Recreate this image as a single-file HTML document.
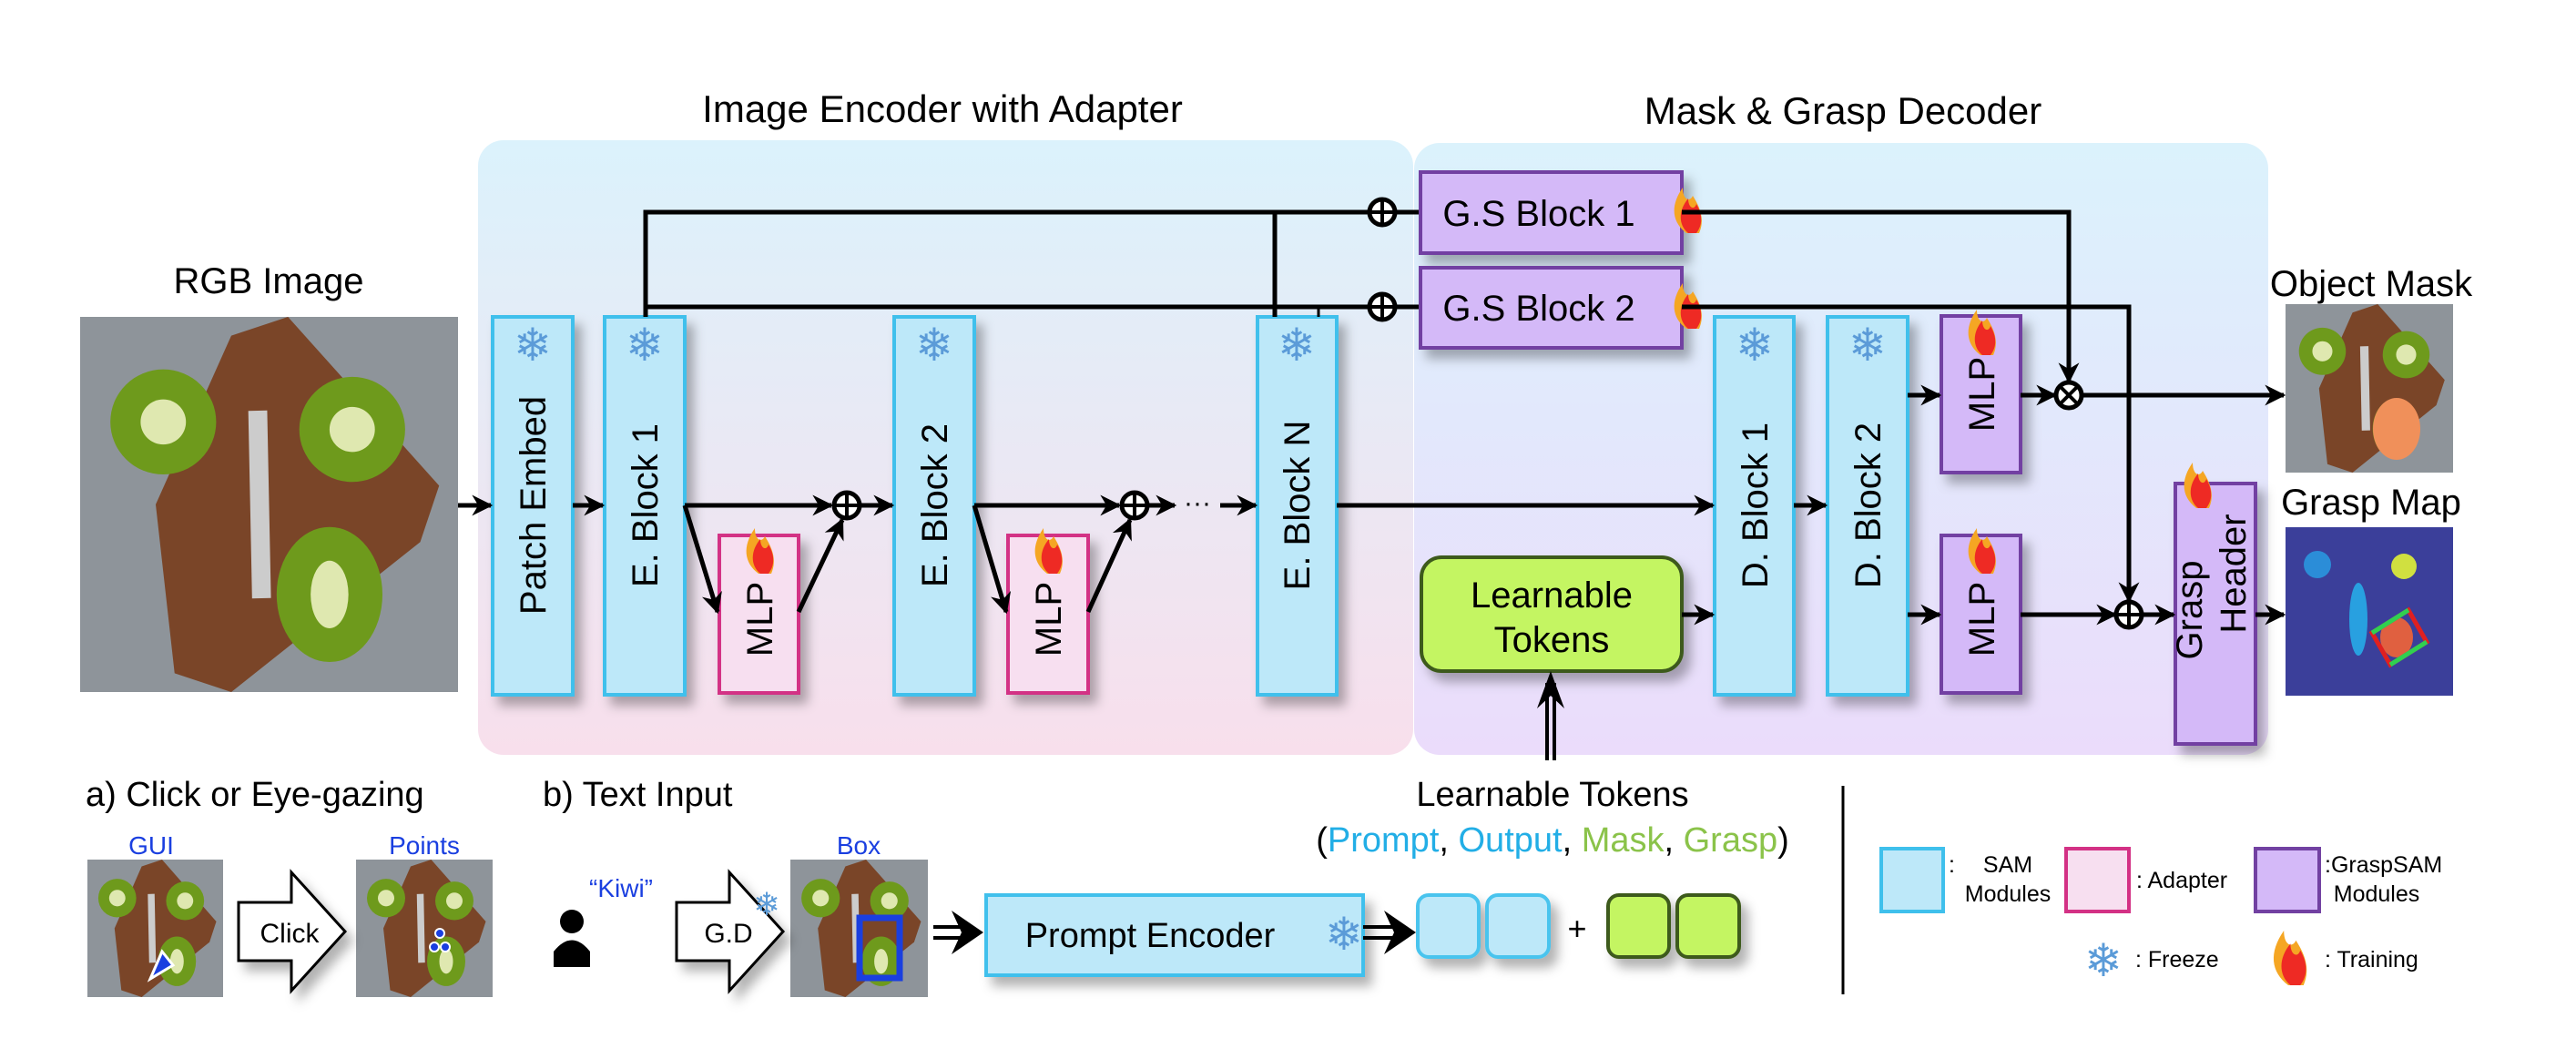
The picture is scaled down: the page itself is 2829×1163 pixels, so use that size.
<!DOCTYPE html>
<html><head><meta charset="utf-8"><style>
html,body{margin:0;padding:0;background:#fff}
svg{display:block}
text{font-family:"Liberation Sans",sans-serif}
</style></head><body>
<svg width="2829" height="1163" viewBox="0 0 2829 1163" xmlns="http://www.w3.org/2000/svg">
<defs>
<linearGradient id="enc" x1="0" y1="0" x2="0" y2="1"><stop offset="0" stop-color="#dbf2fc"/><stop offset="1" stop-color="#f8dfec"/></linearGradient>
<linearGradient id="dec" x1="0" y1="0" x2="0" y2="1"><stop offset="0" stop-color="#dbf2fc"/><stop offset="1" stop-color="#ebdcfb"/></linearGradient>
<marker id="a" viewBox="0 0 10 10" refX="9" refY="5" markerWidth="4.6" markerHeight="4.6" orient="auto"><path d="M0,0 L10,5 L0,10 L3,5 z" fill="#000"/></marker>
<filter id="sh" x="-20%" y="-20%" width="150%" height="150%"><feDropShadow dx="8" dy="10" stdDeviation="6" flood-color="#000" flood-opacity="0.3"/></filter>
<g id="snow"><text font-size="50" fill="#5b9bd8" text-anchor="middle" font-family="DejaVu Sans">❄</text></g>
<g id="fire"><path d="M0,0 C-16,-12 -18,-30 -4,-50 C-4,-36 4,-34 7,-41 C14,-30 21,-16 14,0 Z" fill="#f5a623"/><path d="M2,0 C-9,-9 -9,-25 2,-38 C2,-27 9,-25 11,-32 C18,-20 18,-9 11,0 Z" fill="#ee2a24"/></g>
<g id="kiwi"><rect width="100" height="100" fill="#8e949a"/><path d="M40,5 L55,0 L95,45 L90,60 L40,100 L25,95 L20,50 Z" fill="#7a4528"/><circle cx="22" cy="28" r="14" fill="#6e9a1c"/><circle cx="22" cy="28" r="6" fill="#dfe8b0"/><circle cx="72" cy="30" r="14" fill="#6e9a1c"/><circle cx="72" cy="30" r="6" fill="#dfe8b0"/><ellipse cx="66" cy="74" rx="14" ry="18" fill="#6e9a1c"/><ellipse cx="66" cy="74" rx="5" ry="9" fill="#dfe8b0"/><path d="M47,25 L48,75" stroke="#ccc" stroke-width="5"/></g>
</defs>

<rect x="525" y="154" width="1027" height="675" rx="28" fill="url(#enc)"/>
<rect x="1553" y="157" width="938" height="672" rx="28" fill="url(#dec)"/>

<text x="1035" y="134" font-size="42" text-anchor="middle">Image Encoder with Adapter</text>
<text x="2024" y="136" font-size="42" text-anchor="middle">Mask &amp; Grasp Decoder</text>
<text x="295" y="322" font-size="40" text-anchor="middle">RGB Image</text>
<text x="2604" y="325" font-size="40" text-anchor="middle">Object Mask</text>
<text x="2604" y="565" font-size="40" text-anchor="middle">Grasp Map</text>

<use href="#kiwi" transform="translate(88,348) scale(4.15,4.12)"/>
<use href="#kiwi" transform="translate(2510,334) scale(1.84,1.85)"/>
<ellipse cx="2632" cy="471" rx="26" ry="34" fill="#f0905a"/>
<rect x="2510" y="579" width="184" height="185" fill="#3b3f9a"/>
<circle cx="2545" cy="620" r="15" fill="#2b8dd8"/><circle cx="2640" cy="622" r="14" fill="#d0e040"/><ellipse cx="2590" cy="680" rx="10" ry="40" fill="#28a0e0"/><ellipse cx="2632" cy="700" rx="18" ry="22" fill="#e06040"/>
<path d="M2605,695 L2645,670 L2665,705 L2625,730 Z" fill="none" stroke="#e02020" stroke-width="5"/>
<path d="M2605,695 L2645,670 M2625,730 L2665,705" stroke="#30d050" stroke-width="5"/>

<g filter="url(#sh)">
<rect x="541" y="348" width="88" height="415" fill="#bde8f9" stroke="#3fc0ec" stroke-width="4"/>
<rect x="664" y="348" width="88" height="415" fill="#bde8f9" stroke="#3fc0ec" stroke-width="4"/>
<rect x="982" y="348" width="88" height="415" fill="#bde8f9" stroke="#3fc0ec" stroke-width="4"/>
<rect x="1381" y="348" width="87" height="415" fill="#bde8f9" stroke="#3fc0ec" stroke-width="4"/>
<rect x="790" y="588" width="87" height="173" fill="#f7dff0" stroke="#d33185" stroke-width="4"/>
<rect x="1107" y="588" width="88" height="173" fill="#f7dff0" stroke="#d33185" stroke-width="4"/>
<rect x="1560" y="189" width="287" height="89" fill="#d4b9f8" stroke="#7241a2" stroke-width="4"/>
<rect x="1560" y="294" width="287" height="88" fill="#d4b9f8" stroke="#7241a2" stroke-width="4"/>
<rect x="1883" y="348" width="87" height="415" fill="#bde8f9" stroke="#3fc0ec" stroke-width="4"/>
<rect x="2007" y="348" width="88" height="415" fill="#bde8f9" stroke="#3fc0ec" stroke-width="4"/>
<rect x="2132" y="347" width="87" height="172" fill="#d4b9f8" stroke="#7241a2" stroke-width="4"/>
<rect x="2132" y="588" width="87" height="173" fill="#d4b9f8" stroke="#7241a2" stroke-width="4"/>
<rect x="2389" y="531" width="88" height="286" fill="#d4b9f8" stroke="#7241a2" stroke-width="4"/>
<rect x="1561" y="612" width="286" height="125" rx="22" fill="#c4f562" stroke="#3e5a1a" stroke-width="4"/>
</g>

<g font-size="40" text-anchor="middle">
<text transform="translate(599,555) rotate(-90)">Patch Embed</text>
<text transform="translate(722,555) rotate(-90)">E. Block 1</text>
<text transform="translate(1040,555) rotate(-90)">E. Block 2</text>
<text transform="translate(1438,555) rotate(-90)">E. Block N</text>
<text transform="translate(1941,555) rotate(-90)">D. Block 1</text>
<text transform="translate(2065,555) rotate(-90)">D. Block 2</text>
<text transform="translate(848,680) rotate(-90)">MLP</text>
<text transform="translate(1165,680) rotate(-90)">MLP</text>
<text transform="translate(2190,433) rotate(-90)">MLP</text>
<text transform="translate(2190,680) rotate(-90)">MLP</text>
<text transform="translate(2418,670) rotate(-90)">Grasp</text>
<text transform="translate(2466,630) rotate(-90)">Header</text>
<text x="1690" y="248">G.S Block 1</text>
<text x="1690" y="352">G.S Block 2</text>
<text x="1704" y="667">Learnable</text>
<text x="1704" y="716">Tokens</text>
</g>

<use href="#snow" x="585" y="396"/><use href="#snow" x="708" y="396"/><use href="#snow" x="1026" y="396"/><use href="#snow" x="1424" y="396"/><use href="#snow" x="1927" y="396"/><use href="#snow" x="2051" y="396"/>
<use href="#fire" x="833" y="630"/><use href="#fire" x="1150" y="630"/><use href="#fire" x="1852" y="256"/><use href="#fire" x="1852" y="361"/><use href="#fire" x="2175" y="390"/><use href="#fire" x="2175" y="630"/><use href="#fire" x="2412" y="558"/>

<g stroke="#000" stroke-width="5" fill="none">
<path d="M503,555 H539" marker-end="url(#a)"/>
<path d="M629,555 H662" marker-end="url(#a)"/>
<path d="M752,555 H913" marker-end="url(#a)"/>
<path d="M945,555 H980" marker-end="url(#a)"/>
<path d="M752,555 L788,672" marker-end="url(#a)"/>
<path d="M877,672 L925,571" marker-end="url(#a)"/>
<path d="M1070,555 H1229" marker-end="url(#a)"/>
<path d="M1070,555 L1105,672" marker-end="url(#a)"/>
<path d="M1195,672 L1241,571" marker-end="url(#a)"/>
<path d="M1261,555 H1290" marker-end="url(#a)"/>
<path d="M1340,555 H1379" marker-end="url(#a)"/>
<path d="M1468,555 H1881" marker-end="url(#a)"/>
<path d="M709,348 V233 H1558"/>
<path d="M709,337 H1558"/>
<path d="M1400,233 V348"/>
<path d="M1448,337 V348" stroke-width="3"/>
<path d="M1847,233 H2272 V419" marker-end="url(#a)"/>
<path d="M1847,337 H2338 V660" marker-end="url(#a)"/>
<path d="M1970,555 H2005" marker-end="url(#a)"/>
<path d="M2095,434 H2130" marker-end="url(#a)"/>
<path d="M2095,675 H2130" marker-end="url(#a)"/>
<path d="M2219,434 H2257" marker-end="url(#a)"/>
<path d="M2288,434 H2508" marker-end="url(#a)"/>
<path d="M2219,675 H2323" marker-end="url(#a)"/>
<path d="M2354,675 H2387" marker-end="url(#a)"/>
<path d="M2477,675 H2508" marker-end="url(#a)"/>
<path d="M1847,675 H1881" marker-end="url(#a)"/>
<path d="M1699,835 V750 M1707,835 V750" stroke-width="4"/>
</g>
<path d="M1703,737 L1688,778 L1703,764 L1718,778 Z" fill="#000"/>
<text x="1315" y="562" font-size="30" text-anchor="middle">···</text>
<g stroke="#000" stroke-width="5" fill="#fff">
<circle cx="1518" cy="233" r="14"/><circle cx="1518" cy="337" r="14"/>
<circle cx="930" cy="555" r="14"/><circle cx="1246" cy="555" r="14"/>
<circle cx="2338" cy="675" r="14"/><circle cx="2272" cy="434" r="14"/>
</g>
<g stroke="#000" stroke-width="4">
<path d="M1518,219 V247 M1504,233 H1532 M1518,323 V351 M1504,337 H1532 M930,541 V569 M916,555 H944 M1246,541 V569 M1232,555 H1260 M2338,661 V689 M2324,675 H2352 M2262,424 L2282,444 M2282,424 L2262,444"/>
</g>

<text x="94" y="885" font-size="38">a) Click or Eye-gazing</text>
<text x="596" y="885" font-size="38">b) Text Input</text>
<text x="1705" y="885" font-size="38" text-anchor="middle">Learnable Tokens</text>
<text x="1705" y="935" font-size="38" text-anchor="middle"><tspan>(</tspan><tspan fill="#22aee6">Prompt</tspan><tspan>, </tspan><tspan fill="#22aee6">Output</tspan><tspan>, </tspan><tspan fill="#8bc34a">Mask</tspan><tspan>, </tspan><tspan fill="#8bc34a">Grasp</tspan><tspan>)</tspan></text>
<text x="166" y="938" font-size="28" fill="#1a3fe0" text-anchor="middle">GUI</text>
<text x="466" y="938" font-size="28" fill="#1a3fe0" text-anchor="middle">Points</text>
<text x="943" y="938" font-size="28" fill="#1a3fe0" text-anchor="middle">Box</text>
<text x="682" y="985" font-size="28" fill="#1a3fe0" text-anchor="middle">“Kiwi”</text>

<use href="#kiwi" transform="translate(96,944) scale(1.49,1.51)"/>
<use href="#kiwi" transform="translate(391,944) scale(1.5,1.51)"/>
<use href="#kiwi" transform="translate(868,944) scale(1.51,1.51)"/>
<path d="M165,1075 L178,1045 L190,1060 Z" fill="#1a3fe0" stroke="#fff" stroke-width="3"/>
<circle cx="483" cy="1025" r="5" fill="#1a3fe0" stroke="#fff" stroke-width="2"/><circle cx="477" cy="1040" r="5" fill="#1a3fe0" stroke="#fff" stroke-width="2"/><circle cx="489" cy="1040" r="5" fill="#1a3fe0" stroke="#fff" stroke-width="2"/>
<rect x="944" y="1008" width="44" height="66" fill="none" stroke="#1a3fe0" stroke-width="7"/>

<g filter="url(#sh)">
<path d="M262,991 H320 V958 L379,1023 L320,1088 V1055 H262 Z" fill="#fff" stroke="#000" stroke-width="3"/>
<path d="M743,991 H801 V958 L860,1023 L801,1088 V1055 H743 Z" fill="#fff" stroke="#000" stroke-width="3"/>
<rect x="1083" y="983" width="414" height="88" fill="#bde8f9" stroke="#3fc0ec" stroke-width="4"/>
<rect x="1557" y="983" width="67" height="68" rx="12" fill="#bde8f9" stroke="#4ac4ee" stroke-width="4"/>
<rect x="1633" y="983" width="68" height="68" rx="12" fill="#bde8f9" stroke="#4ac4ee" stroke-width="4"/>
<rect x="1766" y="983" width="67" height="68" rx="12" fill="#c4f562" stroke="#3e5a1a" stroke-width="4"/>
<rect x="1842" y="983" width="68" height="68" rx="12" fill="#c4f562" stroke="#3e5a1a" stroke-width="4"/>
</g>
<text x="318" y="1035" font-size="30" text-anchor="middle">Click</text>
<text x="800" y="1035" font-size="30" text-anchor="middle">G.D</text>
<use href="#snow" transform="translate(842,1005) scale(0.7)"/>
<text x="1263" y="1040" font-size="38" text-anchor="middle">Prompt Encoder</text>
<use href="#snow" x="1476" y="1043"/>
<text x="1732" y="1032" font-size="36" text-anchor="middle">+</text>
<circle cx="628" cy="1012" r="13" fill="#000"/>
<path d="M608,1062 V1045 Q628,1020 648,1045 V1062 Z" fill="#000"/>
<g stroke="#000" stroke-width="4"><path d="M1025,1018 H1060 M1025,1030 H1060 M1497,1018 H1535 M1497,1030 H1535"/></g>
<path d="M1045,1000 L1080,1024 L1045,1048 L1056,1024 Z" fill="#000"/>
<path d="M1520,1000 L1555,1024 L1520,1048 L1531,1024 Z" fill="#000"/>

<line x1="2024" y1="863" x2="2024" y2="1092" stroke="#000" stroke-width="3"/>
<rect x="2066" y="932" width="68" height="69" fill="#bde8f9" stroke="#3fc0ec" stroke-width="4"/>
<rect x="2269" y="932" width="69" height="69" fill="#f7dff0" stroke="#d33185" stroke-width="4"/>
<rect x="2477" y="932" width="70" height="69" fill="#d4b9f8" stroke="#7241a2" stroke-width="4"/>
<g font-size="25">
<text x="2140" y="958">: </text><text x="2205" y="958" text-anchor="middle">SAM</text><text x="2205" y="990" text-anchor="middle">Modules</text>
<text x="2346" y="975">: Adapter</text>
<text x="2553" y="958">:GraspSAM</text><text x="2610" y="990" text-anchor="middle">Modules</text>
<text x="2345" y="1062">: Freeze</text>
<text x="2553" y="1062">: Training</text>
</g>
<use href="#snow" x="2310" y="1072"/>
<use href="#fire" transform="translate(2513,1082) scale(1.2)"/>
</svg>
</body></html>
